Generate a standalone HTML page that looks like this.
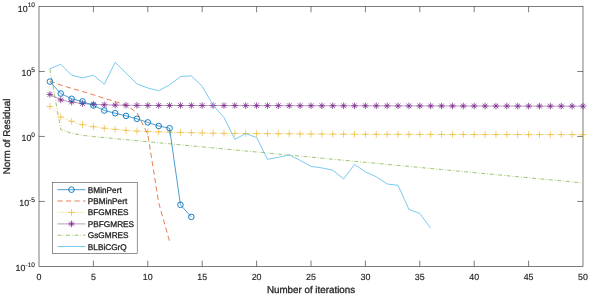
<!DOCTYPE html><html><head><meta charset="utf-8"><style>html,body{margin:0;padding:0;background:#fff;}svg{display:block;}text{font-family:"Liberation Sans",Arial,sans-serif;fill:#262626;stroke:#262626;stroke-width:0.3px;text-rendering:geometricPrecision;}</style></head><body>
<svg width="590" height="297" viewBox="0 0 590 297">
<rect x="0" y="0" width="590" height="297" fill="#fff"/>
<g fill="none" stroke="#262626" stroke-width="0.6">
<rect x="39.00" y="6.50" width="544.00" height="259.90"/>
<path d="M93.40 266.40v-5.80M93.40 6.50v5.80"/>
<path d="M147.80 266.40v-5.80M147.80 6.50v5.80"/>
<path d="M202.20 266.40v-5.80M202.20 6.50v5.80"/>
<path d="M256.60 266.40v-5.80M256.60 6.50v5.80"/>
<path d="M311.00 266.40v-5.80M311.00 6.50v5.80"/>
<path d="M365.40 266.40v-5.80M365.40 6.50v5.80"/>
<path d="M419.80 266.40v-5.80M419.80 6.50v5.80"/>
<path d="M474.20 266.40v-5.80M474.20 6.50v5.80"/>
<path d="M528.60 266.40v-5.80M528.60 6.50v5.80"/>
<path d="M39.00 201.42h5.80M583.00 201.42h-5.80"/>
<path d="M39.00 136.45h5.80M583.00 136.45h-5.80"/>
<path d="M39.00 71.47h5.80M583.00 71.47h-5.80"/>
</g>
<g fill="none" stroke-width="0.9" stroke-linejoin="round">
<polyline points="49.88,69.00 60.76,129.50 71.64,133.30 82.52,135.30 93.40,136.60 104.28,137.60 115.16,138.63 126.04,139.66 136.92,140.69 147.80,141.72 158.68,142.75 169.56,143.78 180.44,144.81 191.32,145.84 202.20,146.87 213.08,147.90 223.96,148.93 234.84,149.96 245.72,150.99 256.60,152.02 267.48,153.05 278.36,154.08 289.24,155.11 300.12,156.14 311.00,157.17 321.88,158.20 332.76,159.23 343.64,160.26 354.52,161.29 365.40,162.32 376.28,163.35 387.16,164.38 398.04,165.41 408.92,166.44 419.80,167.47 430.68,168.50 441.56,169.53 452.44,170.56 463.32,171.59 474.20,172.62 485.08,173.65 495.96,174.68 506.84,175.71 517.72,176.74 528.60,177.77 539.48,178.80 550.36,179.83 561.24,180.86 572.12,181.89 583.00,182.92" stroke="#77AC30" stroke-dasharray="4 2 0.8 1.7" stroke-width="0.7"/>
<polyline points="49.88,106.50 60.76,117.00 71.64,121.30 82.52,124.70 93.40,126.70 104.28,128.20 115.16,129.30 126.04,130.40 136.92,131.10 147.80,131.60 158.68,131.90 169.56,132.20 180.44,132.45 191.32,132.70 202.20,132.95 213.08,133.20 223.96,133.30 234.84,133.40 245.72,133.50 256.60,133.60 267.48,133.68 278.36,133.76 289.24,133.84 300.12,133.92 311.00,134.00 321.88,134.06 332.76,134.12 343.64,134.18 354.52,134.24 365.40,134.30 376.28,134.32 387.16,134.34 398.04,134.36 408.92,134.38 419.80,134.40 430.68,134.42 441.56,134.44 452.44,134.46 463.32,134.48 474.20,134.50 485.08,134.51 495.96,134.52 506.84,134.53 517.72,134.54 528.60,134.55 539.48,134.56 550.36,134.57 561.24,134.58 572.12,134.59 583.00,134.60" stroke="#EDB120" stroke-dasharray="0.6 0.9" stroke-width="0.6"/>
<path d="M46.48 106.50h6.80M49.88 103.10v6.80" stroke="#EDB120" stroke-width="0.65"/>
<path d="M57.36 117.00h6.80M60.76 113.60v6.80" stroke="#EDB120" stroke-width="0.65"/>
<path d="M68.24 121.30h6.80M71.64 117.90v6.80" stroke="#EDB120" stroke-width="0.65"/>
<path d="M79.12 124.70h6.80M82.52 121.30v6.80" stroke="#EDB120" stroke-width="0.65"/>
<path d="M90.00 126.70h6.80M93.40 123.30v6.80" stroke="#EDB120" stroke-width="0.65"/>
<path d="M100.88 128.20h6.80M104.28 124.80v6.80" stroke="#EDB120" stroke-width="0.65"/>
<path d="M111.76 129.30h6.80M115.16 125.90v6.80" stroke="#EDB120" stroke-width="0.65"/>
<path d="M122.64 130.40h6.80M126.04 127.00v6.80" stroke="#EDB120" stroke-width="0.65"/>
<path d="M133.52 131.10h6.80M136.92 127.70v6.80" stroke="#EDB120" stroke-width="0.65"/>
<path d="M144.40 131.60h6.80M147.80 128.20v6.80" stroke="#EDB120" stroke-width="0.65"/>
<path d="M155.28 131.90h6.80M158.68 128.50v6.80" stroke="#EDB120" stroke-width="0.65"/>
<path d="M166.16 132.20h6.80M169.56 128.80v6.80" stroke="#EDB120" stroke-width="0.65"/>
<path d="M177.04 132.45h6.80M180.44 129.05v6.80" stroke="#EDB120" stroke-width="0.65"/>
<path d="M187.92 132.70h6.80M191.32 129.30v6.80" stroke="#EDB120" stroke-width="0.65"/>
<path d="M198.80 132.95h6.80M202.20 129.55v6.80" stroke="#EDB120" stroke-width="0.65"/>
<path d="M209.68 133.20h6.80M213.08 129.80v6.80" stroke="#EDB120" stroke-width="0.65"/>
<path d="M220.56 133.30h6.80M223.96 129.90v6.80" stroke="#EDB120" stroke-width="0.65"/>
<path d="M231.44 133.40h6.80M234.84 130.00v6.80" stroke="#EDB120" stroke-width="0.65"/>
<path d="M242.32 133.50h6.80M245.72 130.10v6.80" stroke="#EDB120" stroke-width="0.65"/>
<path d="M253.20 133.60h6.80M256.60 130.20v6.80" stroke="#EDB120" stroke-width="0.65"/>
<path d="M264.08 133.68h6.80M267.48 130.28v6.80" stroke="#EDB120" stroke-width="0.65"/>
<path d="M274.96 133.76h6.80M278.36 130.36v6.80" stroke="#EDB120" stroke-width="0.65"/>
<path d="M285.84 133.84h6.80M289.24 130.44v6.80" stroke="#EDB120" stroke-width="0.65"/>
<path d="M296.72 133.92h6.80M300.12 130.52v6.80" stroke="#EDB120" stroke-width="0.65"/>
<path d="M307.60 134.00h6.80M311.00 130.60v6.80" stroke="#EDB120" stroke-width="0.65"/>
<path d="M318.48 134.06h6.80M321.88 130.66v6.80" stroke="#EDB120" stroke-width="0.65"/>
<path d="M329.36 134.12h6.80M332.76 130.72v6.80" stroke="#EDB120" stroke-width="0.65"/>
<path d="M340.24 134.18h6.80M343.64 130.78v6.80" stroke="#EDB120" stroke-width="0.65"/>
<path d="M351.12 134.24h6.80M354.52 130.84v6.80" stroke="#EDB120" stroke-width="0.65"/>
<path d="M362.00 134.30h6.80M365.40 130.90v6.80" stroke="#EDB120" stroke-width="0.65"/>
<path d="M372.88 134.32h6.80M376.28 130.92v6.80" stroke="#EDB120" stroke-width="0.65"/>
<path d="M383.76 134.34h6.80M387.16 130.94v6.80" stroke="#EDB120" stroke-width="0.65"/>
<path d="M394.64 134.36h6.80M398.04 130.96v6.80" stroke="#EDB120" stroke-width="0.65"/>
<path d="M405.52 134.38h6.80M408.92 130.98v6.80" stroke="#EDB120" stroke-width="0.65"/>
<path d="M416.40 134.40h6.80M419.80 131.00v6.80" stroke="#EDB120" stroke-width="0.65"/>
<path d="M427.28 134.42h6.80M430.68 131.02v6.80" stroke="#EDB120" stroke-width="0.65"/>
<path d="M438.16 134.44h6.80M441.56 131.04v6.80" stroke="#EDB120" stroke-width="0.65"/>
<path d="M449.04 134.46h6.80M452.44 131.06v6.80" stroke="#EDB120" stroke-width="0.65"/>
<path d="M459.92 134.48h6.80M463.32 131.08v6.80" stroke="#EDB120" stroke-width="0.65"/>
<path d="M470.80 134.50h6.80M474.20 131.10v6.80" stroke="#EDB120" stroke-width="0.65"/>
<path d="M481.68 134.51h6.80M485.08 131.11v6.80" stroke="#EDB120" stroke-width="0.65"/>
<path d="M492.56 134.52h6.80M495.96 131.12v6.80" stroke="#EDB120" stroke-width="0.65"/>
<path d="M503.44 134.53h6.80M506.84 131.13v6.80" stroke="#EDB120" stroke-width="0.65"/>
<path d="M514.32 134.54h6.80M517.72 131.14v6.80" stroke="#EDB120" stroke-width="0.65"/>
<path d="M525.20 134.55h6.80M528.60 131.15v6.80" stroke="#EDB120" stroke-width="0.65"/>
<path d="M536.08 134.56h6.80M539.48 131.16v6.80" stroke="#EDB120" stroke-width="0.65"/>
<path d="M546.96 134.57h6.80M550.36 131.17v6.80" stroke="#EDB120" stroke-width="0.65"/>
<path d="M557.84 134.58h6.80M561.24 131.18v6.80" stroke="#EDB120" stroke-width="0.65"/>
<path d="M568.72 134.59h6.80M572.12 131.19v6.80" stroke="#EDB120" stroke-width="0.65"/>
<path d="M579.60 134.60h6.80M583.00 131.20v6.80" stroke="#EDB120" stroke-width="0.65"/>
<polyline points="49.88,81.00 60.76,85.00 71.64,88.40 82.52,91.40 93.40,94.80 104.28,98.40 115.16,101.50 126.04,105.20 136.92,112.60 147.80,134.40 158.68,202.80 169.56,241.40" stroke="#D95319" stroke-dasharray="5.2 3.3" stroke-width="0.75"/>
<polyline points="49.88,94.40 60.76,99.90 71.64,102.00 82.52,103.60 93.40,104.30 104.28,104.80 115.16,105.10 126.04,105.30 136.92,105.42 147.80,105.44 158.68,105.46 169.56,105.48 180.44,105.50 191.32,105.51 202.20,105.53 213.08,105.55 223.96,105.57 234.84,105.59 245.72,105.61 256.60,105.63 267.48,105.65 278.36,105.67 289.24,105.69 300.12,105.70 311.00,105.72 321.88,105.74 332.76,105.76 343.64,105.78 354.52,105.80 365.40,105.82 376.28,105.84 387.16,105.86 398.04,105.88 408.92,105.90 419.80,105.91 430.68,105.93 441.56,105.95 452.44,105.97 463.32,105.99 474.20,106.01 485.08,106.03 495.96,106.05 506.84,106.07 517.72,106.09 528.60,106.10 539.48,106.12 550.36,106.14 561.24,106.16 572.12,106.18 583.00,106.20" stroke="#7E2F8E" stroke-width="0.5"/>
<path d="M46.58 94.40h6.60M49.88 91.10v6.60M47.55 92.07l4.67 4.67M47.55 96.73l4.67 -4.67" stroke="#7E2F8E" stroke-width="0.8"/><circle cx="49.88" cy="94.40" r="0.75" fill="#7E2F8E" stroke="none"/>
<path d="M57.46 99.90h6.60M60.76 96.60v6.60M58.43 97.57l4.67 4.67M58.43 102.23l4.67 -4.67" stroke="#7E2F8E" stroke-width="0.8"/><circle cx="60.76" cy="99.90" r="0.75" fill="#7E2F8E" stroke="none"/>
<path d="M68.34 102.00h6.60M71.64 98.70v6.60M69.31 99.67l4.67 4.67M69.31 104.33l4.67 -4.67" stroke="#7E2F8E" stroke-width="0.8"/><circle cx="71.64" cy="102.00" r="0.75" fill="#7E2F8E" stroke="none"/>
<path d="M79.22 103.60h6.60M82.52 100.30v6.60M80.19 101.27l4.67 4.67M80.19 105.93l4.67 -4.67" stroke="#7E2F8E" stroke-width="0.8"/><circle cx="82.52" cy="103.60" r="0.75" fill="#7E2F8E" stroke="none"/>
<path d="M90.10 104.30h6.60M93.40 101.00v6.60M91.07 101.97l4.67 4.67M91.07 106.63l4.67 -4.67" stroke="#7E2F8E" stroke-width="0.8"/><circle cx="93.40" cy="104.30" r="0.75" fill="#7E2F8E" stroke="none"/>
<path d="M100.98 104.80h6.60M104.28 101.50v6.60M101.95 102.47l4.67 4.67M101.95 107.13l4.67 -4.67" stroke="#7E2F8E" stroke-width="0.8"/><circle cx="104.28" cy="104.80" r="0.75" fill="#7E2F8E" stroke="none"/>
<path d="M111.86 105.10h6.60M115.16 101.80v6.60M112.83 102.77l4.67 4.67M112.83 107.43l4.67 -4.67" stroke="#7E2F8E" stroke-width="0.8"/><circle cx="115.16" cy="105.10" r="0.75" fill="#7E2F8E" stroke="none"/>
<path d="M122.74 105.30h6.60M126.04 102.00v6.60M123.71 102.97l4.67 4.67M123.71 107.63l4.67 -4.67" stroke="#7E2F8E" stroke-width="0.8"/><circle cx="126.04" cy="105.30" r="0.75" fill="#7E2F8E" stroke="none"/>
<path d="M133.62 105.42h6.60M136.92 102.12v6.60M134.59 103.09l4.67 4.67M134.59 107.75l4.67 -4.67" stroke="#7E2F8E" stroke-width="0.8"/><circle cx="136.92" cy="105.42" r="0.75" fill="#7E2F8E" stroke="none"/>
<path d="M144.50 105.44h6.60M147.80 102.14v6.60M145.47 103.10l4.67 4.67M145.47 107.77l4.67 -4.67" stroke="#7E2F8E" stroke-width="0.8"/><circle cx="147.80" cy="105.44" r="0.75" fill="#7E2F8E" stroke="none"/>
<path d="M155.38 105.46h6.60M158.68 102.16v6.60M156.35 103.12l4.67 4.67M156.35 107.79l4.67 -4.67" stroke="#7E2F8E" stroke-width="0.8"/><circle cx="158.68" cy="105.46" r="0.75" fill="#7E2F8E" stroke="none"/>
<path d="M166.26 105.48h6.60M169.56 102.18v6.60M167.23 103.14l4.67 4.67M167.23 107.81l4.67 -4.67" stroke="#7E2F8E" stroke-width="0.8"/><circle cx="169.56" cy="105.48" r="0.75" fill="#7E2F8E" stroke="none"/>
<path d="M177.14 105.50h6.60M180.44 102.20v6.60M178.11 103.16l4.67 4.67M178.11 107.83l4.67 -4.67" stroke="#7E2F8E" stroke-width="0.8"/><circle cx="180.44" cy="105.50" r="0.75" fill="#7E2F8E" stroke="none"/>
<path d="M188.02 105.51h6.60M191.32 102.21v6.60M188.99 103.18l4.67 4.67M188.99 107.85l4.67 -4.67" stroke="#7E2F8E" stroke-width="0.8"/><circle cx="191.32" cy="105.51" r="0.75" fill="#7E2F8E" stroke="none"/>
<path d="M198.90 105.53h6.60M202.20 102.23v6.60M199.87 103.20l4.67 4.67M199.87 107.87l4.67 -4.67" stroke="#7E2F8E" stroke-width="0.8"/><circle cx="202.20" cy="105.53" r="0.75" fill="#7E2F8E" stroke="none"/>
<path d="M209.78 105.55h6.60M213.08 102.25v6.60M210.75 103.22l4.67 4.67M210.75 107.89l4.67 -4.67" stroke="#7E2F8E" stroke-width="0.8"/><circle cx="213.08" cy="105.55" r="0.75" fill="#7E2F8E" stroke="none"/>
<path d="M220.66 105.57h6.60M223.96 102.27v6.60M221.63 103.24l4.67 4.67M221.63 107.90l4.67 -4.67" stroke="#7E2F8E" stroke-width="0.8"/><circle cx="223.96" cy="105.57" r="0.75" fill="#7E2F8E" stroke="none"/>
<path d="M231.54 105.59h6.60M234.84 102.29v6.60M232.51 103.26l4.67 4.67M232.51 107.92l4.67 -4.67" stroke="#7E2F8E" stroke-width="0.8"/><circle cx="234.84" cy="105.59" r="0.75" fill="#7E2F8E" stroke="none"/>
<path d="M242.42 105.61h6.60M245.72 102.31v6.60M243.39 103.28l4.67 4.67M243.39 107.94l4.67 -4.67" stroke="#7E2F8E" stroke-width="0.8"/><circle cx="245.72" cy="105.61" r="0.75" fill="#7E2F8E" stroke="none"/>
<path d="M253.30 105.63h6.60M256.60 102.33v6.60M254.27 103.30l4.67 4.67M254.27 107.96l4.67 -4.67" stroke="#7E2F8E" stroke-width="0.8"/><circle cx="256.60" cy="105.63" r="0.75" fill="#7E2F8E" stroke="none"/>
<path d="M264.18 105.65h6.60M267.48 102.35v6.60M265.15 103.31l4.67 4.67M265.15 107.98l4.67 -4.67" stroke="#7E2F8E" stroke-width="0.8"/><circle cx="267.48" cy="105.65" r="0.75" fill="#7E2F8E" stroke="none"/>
<path d="M275.06 105.67h6.60M278.36 102.37v6.60M276.03 103.33l4.67 4.67M276.03 108.00l4.67 -4.67" stroke="#7E2F8E" stroke-width="0.8"/><circle cx="278.36" cy="105.67" r="0.75" fill="#7E2F8E" stroke="none"/>
<path d="M285.94 105.69h6.60M289.24 102.39v6.60M286.91 103.35l4.67 4.67M286.91 108.02l4.67 -4.67" stroke="#7E2F8E" stroke-width="0.8"/><circle cx="289.24" cy="105.69" r="0.75" fill="#7E2F8E" stroke="none"/>
<path d="M296.82 105.70h6.60M300.12 102.40v6.60M297.79 103.37l4.67 4.67M297.79 108.04l4.67 -4.67" stroke="#7E2F8E" stroke-width="0.8"/><circle cx="300.12" cy="105.70" r="0.75" fill="#7E2F8E" stroke="none"/>
<path d="M307.70 105.72h6.60M311.00 102.42v6.60M308.67 103.39l4.67 4.67M308.67 108.06l4.67 -4.67" stroke="#7E2F8E" stroke-width="0.8"/><circle cx="311.00" cy="105.72" r="0.75" fill="#7E2F8E" stroke="none"/>
<path d="M318.58 105.74h6.60M321.88 102.44v6.60M319.55 103.41l4.67 4.67M319.55 108.08l4.67 -4.67" stroke="#7E2F8E" stroke-width="0.8"/><circle cx="321.88" cy="105.74" r="0.75" fill="#7E2F8E" stroke="none"/>
<path d="M329.46 105.76h6.60M332.76 102.46v6.60M330.43 103.43l4.67 4.67M330.43 108.10l4.67 -4.67" stroke="#7E2F8E" stroke-width="0.8"/><circle cx="332.76" cy="105.76" r="0.75" fill="#7E2F8E" stroke="none"/>
<path d="M340.34 105.78h6.60M343.64 102.48v6.60M341.31 103.45l4.67 4.67M341.31 108.11l4.67 -4.67" stroke="#7E2F8E" stroke-width="0.8"/><circle cx="343.64" cy="105.78" r="0.75" fill="#7E2F8E" stroke="none"/>
<path d="M351.22 105.80h6.60M354.52 102.50v6.60M352.19 103.47l4.67 4.67M352.19 108.13l4.67 -4.67" stroke="#7E2F8E" stroke-width="0.8"/><circle cx="354.52" cy="105.80" r="0.75" fill="#7E2F8E" stroke="none"/>
<path d="M362.10 105.82h6.60M365.40 102.52v6.60M363.07 103.49l4.67 4.67M363.07 108.15l4.67 -4.67" stroke="#7E2F8E" stroke-width="0.8"/><circle cx="365.40" cy="105.82" r="0.75" fill="#7E2F8E" stroke="none"/>
<path d="M372.98 105.84h6.60M376.28 102.54v6.60M373.95 103.50l4.67 4.67M373.95 108.17l4.67 -4.67" stroke="#7E2F8E" stroke-width="0.8"/><circle cx="376.28" cy="105.84" r="0.75" fill="#7E2F8E" stroke="none"/>
<path d="M383.86 105.86h6.60M387.16 102.56v6.60M384.83 103.52l4.67 4.67M384.83 108.19l4.67 -4.67" stroke="#7E2F8E" stroke-width="0.8"/><circle cx="387.16" cy="105.86" r="0.75" fill="#7E2F8E" stroke="none"/>
<path d="M394.74 105.88h6.60M398.04 102.58v6.60M395.71 103.54l4.67 4.67M395.71 108.21l4.67 -4.67" stroke="#7E2F8E" stroke-width="0.8"/><circle cx="398.04" cy="105.88" r="0.75" fill="#7E2F8E" stroke="none"/>
<path d="M405.62 105.90h6.60M408.92 102.60v6.60M406.59 103.56l4.67 4.67M406.59 108.23l4.67 -4.67" stroke="#7E2F8E" stroke-width="0.8"/><circle cx="408.92" cy="105.90" r="0.75" fill="#7E2F8E" stroke="none"/>
<path d="M416.50 105.91h6.60M419.80 102.61v6.60M417.47 103.58l4.67 4.67M417.47 108.25l4.67 -4.67" stroke="#7E2F8E" stroke-width="0.8"/><circle cx="419.80" cy="105.91" r="0.75" fill="#7E2F8E" stroke="none"/>
<path d="M427.38 105.93h6.60M430.68 102.63v6.60M428.35 103.60l4.67 4.67M428.35 108.27l4.67 -4.67" stroke="#7E2F8E" stroke-width="0.8"/><circle cx="430.68" cy="105.93" r="0.75" fill="#7E2F8E" stroke="none"/>
<path d="M438.26 105.95h6.60M441.56 102.65v6.60M439.23 103.62l4.67 4.67M439.23 108.29l4.67 -4.67" stroke="#7E2F8E" stroke-width="0.8"/><circle cx="441.56" cy="105.95" r="0.75" fill="#7E2F8E" stroke="none"/>
<path d="M449.14 105.97h6.60M452.44 102.67v6.60M450.11 103.64l4.67 4.67M450.11 108.30l4.67 -4.67" stroke="#7E2F8E" stroke-width="0.8"/><circle cx="452.44" cy="105.97" r="0.75" fill="#7E2F8E" stroke="none"/>
<path d="M460.02 105.99h6.60M463.32 102.69v6.60M460.99 103.66l4.67 4.67M460.99 108.32l4.67 -4.67" stroke="#7E2F8E" stroke-width="0.8"/><circle cx="463.32" cy="105.99" r="0.75" fill="#7E2F8E" stroke="none"/>
<path d="M470.90 106.01h6.60M474.20 102.71v6.60M471.87 103.68l4.67 4.67M471.87 108.34l4.67 -4.67" stroke="#7E2F8E" stroke-width="0.8"/><circle cx="474.20" cy="106.01" r="0.75" fill="#7E2F8E" stroke="none"/>
<path d="M481.78 106.03h6.60M485.08 102.73v6.60M482.75 103.70l4.67 4.67M482.75 108.36l4.67 -4.67" stroke="#7E2F8E" stroke-width="0.8"/><circle cx="485.08" cy="106.03" r="0.75" fill="#7E2F8E" stroke="none"/>
<path d="M492.66 106.05h6.60M495.96 102.75v6.60M493.63 103.71l4.67 4.67M493.63 108.38l4.67 -4.67" stroke="#7E2F8E" stroke-width="0.8"/><circle cx="495.96" cy="106.05" r="0.75" fill="#7E2F8E" stroke="none"/>
<path d="M503.54 106.07h6.60M506.84 102.77v6.60M504.51 103.73l4.67 4.67M504.51 108.40l4.67 -4.67" stroke="#7E2F8E" stroke-width="0.8"/><circle cx="506.84" cy="106.07" r="0.75" fill="#7E2F8E" stroke="none"/>
<path d="M514.42 106.09h6.60M517.72 102.79v6.60M515.39 103.75l4.67 4.67M515.39 108.42l4.67 -4.67" stroke="#7E2F8E" stroke-width="0.8"/><circle cx="517.72" cy="106.09" r="0.75" fill="#7E2F8E" stroke="none"/>
<path d="M525.30 106.10h6.60M528.60 102.80v6.60M526.27 103.77l4.67 4.67M526.27 108.44l4.67 -4.67" stroke="#7E2F8E" stroke-width="0.8"/><circle cx="528.60" cy="106.10" r="0.75" fill="#7E2F8E" stroke="none"/>
<path d="M536.18 106.12h6.60M539.48 102.82v6.60M537.15 103.79l4.67 4.67M537.15 108.46l4.67 -4.67" stroke="#7E2F8E" stroke-width="0.8"/><circle cx="539.48" cy="106.12" r="0.75" fill="#7E2F8E" stroke="none"/>
<path d="M547.06 106.14h6.60M550.36 102.84v6.60M548.03 103.81l4.67 4.67M548.03 108.48l4.67 -4.67" stroke="#7E2F8E" stroke-width="0.8"/><circle cx="550.36" cy="106.14" r="0.75" fill="#7E2F8E" stroke="none"/>
<path d="M557.94 106.16h6.60M561.24 102.86v6.60M558.91 103.83l4.67 4.67M558.91 108.50l4.67 -4.67" stroke="#7E2F8E" stroke-width="0.8"/><circle cx="561.24" cy="106.16" r="0.75" fill="#7E2F8E" stroke="none"/>
<path d="M568.82 106.18h6.60M572.12 102.88v6.60M569.79 103.85l4.67 4.67M569.79 108.51l4.67 -4.67" stroke="#7E2F8E" stroke-width="0.8"/><circle cx="572.12" cy="106.18" r="0.75" fill="#7E2F8E" stroke="none"/>
<path d="M579.70 106.20h6.60M583.00 102.90v6.60M580.67 103.87l4.67 4.67M580.67 108.53l4.67 -4.67" stroke="#7E2F8E" stroke-width="0.8"/><circle cx="583.00" cy="106.20" r="0.75" fill="#7E2F8E" stroke="none"/>
<polyline points="49.88,81.60 60.76,93.50 71.64,98.80 82.52,101.40 93.40,105.50 104.28,110.50 115.16,113.20 126.04,115.90 136.92,118.80 147.80,122.40 158.68,126.00 169.56,128.20 180.44,204.80 191.32,216.90" stroke="#0072BD" stroke-width="0.7"/>
<circle cx="49.88" cy="81.60" r="2.8" stroke="#0072BD"/>
<circle cx="60.76" cy="93.50" r="2.8" stroke="#0072BD"/>
<circle cx="71.64" cy="98.80" r="2.8" stroke="#0072BD"/>
<circle cx="82.52" cy="101.40" r="2.8" stroke="#0072BD"/>
<circle cx="93.40" cy="105.50" r="2.8" stroke="#0072BD"/>
<circle cx="104.28" cy="110.50" r="2.8" stroke="#0072BD"/>
<circle cx="115.16" cy="113.20" r="2.8" stroke="#0072BD"/>
<circle cx="126.04" cy="115.90" r="2.8" stroke="#0072BD"/>
<circle cx="136.92" cy="118.80" r="2.8" stroke="#0072BD"/>
<circle cx="147.80" cy="122.40" r="2.8" stroke="#0072BD"/>
<circle cx="158.68" cy="126.00" r="2.8" stroke="#0072BD"/>
<circle cx="169.56" cy="128.20" r="2.8" stroke="#0072BD"/>
<circle cx="180.44" cy="204.80" r="2.8" stroke="#0072BD"/>
<circle cx="191.32" cy="216.90" r="2.8" stroke="#0072BD"/>
<polyline points="49.88,68.80 60.76,64.20 71.64,75.20 82.52,77.90 93.40,75.20 104.28,84.30 115.16,62.40 126.04,73.20 136.92,83.90 147.80,88.00 158.68,90.70 169.56,84.90 180.44,76.50 191.32,75.90 202.20,86.20 213.08,105.20 223.96,117.50 234.84,139.30 245.72,133.60 256.60,137.50 267.48,159.30 278.36,157.30 289.24,154.90 300.12,160.40 311.00,166.40 321.88,167.90 332.76,170.20 343.64,178.90 354.52,164.40 365.40,171.80 376.28,176.80 387.16,184.00 398.04,185.30 408.92,209.40 419.80,213.50 430.68,228.20" stroke="#62C0EC" stroke-width="0.85"/>
</g>
<text transform="translate(39.00 280.00) matrix(1 0 0.0020 1 0 0)" font-size="8.9" text-anchor="middle" style="stroke-width:0.15px">0</text>
<text transform="translate(93.40 280.00) matrix(1 0 0.0020 1 0 0)" font-size="8.9" text-anchor="middle" style="stroke-width:0.15px">5</text>
<text transform="translate(147.80 280.00) matrix(1 0 0.0020 1 0 0)" font-size="8.9" text-anchor="middle" style="stroke-width:0.15px">10</text>
<text transform="translate(202.20 280.00) matrix(1 0 0.0020 1 0 0)" font-size="8.9" text-anchor="middle" style="stroke-width:0.15px">15</text>
<text transform="translate(256.60 280.00) matrix(1 0 0.0020 1 0 0)" font-size="8.9" text-anchor="middle" style="stroke-width:0.15px">20</text>
<text transform="translate(311.00 280.00) matrix(1 0 0.0020 1 0 0)" font-size="8.9" text-anchor="middle" style="stroke-width:0.15px">25</text>
<text transform="translate(365.40 280.00) matrix(1 0 0.0020 1 0 0)" font-size="8.9" text-anchor="middle" style="stroke-width:0.15px">30</text>
<text transform="translate(419.80 280.00) matrix(1 0 0.0020 1 0 0)" font-size="8.9" text-anchor="middle" style="stroke-width:0.15px">35</text>
<text transform="translate(474.20 280.00) matrix(1 0 0.0020 1 0 0)" font-size="8.9" text-anchor="middle" style="stroke-width:0.15px">40</text>
<text transform="translate(528.60 280.00) matrix(1 0 0.0020 1 0 0)" font-size="8.9" text-anchor="middle" style="stroke-width:0.15px">45</text>
<text transform="translate(583.00 280.00) matrix(1 0 0.0020 1 0 0)" font-size="8.9" text-anchor="middle" style="stroke-width:0.15px">50</text>
<text transform="translate(35.00 271.40) matrix(1 0 0.0020 1 0 0)" font-size="8.9" text-anchor="end" style="stroke-width:0.15px">10<tspan font-size="6.6" dy="-4.4">-10</tspan></text>
<text transform="translate(35.00 206.42) matrix(1 0 0.0020 1 0 0)" font-size="8.9" text-anchor="end" style="stroke-width:0.15px">10<tspan font-size="6.6" dy="-4.4">-5</tspan></text>
<text transform="translate(35.00 141.45) matrix(1 0 0.0020 1 0 0)" font-size="8.9" text-anchor="end" style="stroke-width:0.15px">10<tspan font-size="6.6" dy="-4.4">0</tspan></text>
<text transform="translate(35.00 76.47) matrix(1 0 0.0020 1 0 0)" font-size="8.9" text-anchor="end" style="stroke-width:0.15px">10<tspan font-size="6.6" dy="-4.4">5</tspan></text>
<text transform="translate(35.00 11.50) matrix(1 0 0.0020 1 0 0)" font-size="8.9" text-anchor="end" style="stroke-width:0.15px">10<tspan font-size="6.6" dy="-4.4">10</tspan></text>
<text transform="translate(311.00 293.20) matrix(1 0 0.0020 1 0 0)" font-size="9.8" text-anchor="middle">Number of iterations</text>
<text transform="translate(10.20 136.45) rotate(-90) matrix(1 0 0.0020 1 0 0)" font-size="9.8" text-anchor="middle">Norm of Residual</text>
<rect x="52.30" y="182.40" width="84.90" height="71.30" fill="#fff" stroke="#262626" stroke-width="0.5"/>
<g fill="none" stroke-width="0.9">
<path d="M57.50 189.70H85.50" stroke="#0072BD" stroke-width="0.7"/><circle cx="71.50" cy="189.70" r="2.8" stroke="#0072BD"/>
<path d="M57.50 201.00H85.50" stroke="#D95319" stroke-dasharray="5.2 3.3" stroke-width="0.75"/>
<path d="M57.50 212.40H85.50" stroke="#EDB120" stroke-dasharray="0.6 0.9" stroke-width="0.6"/><path d="M68.10 212.40h6.80M71.50 209.00v6.80" stroke="#EDB120" stroke-width="0.65"/>
<path d="M57.50 223.90H85.50" stroke="#7E2F8E" stroke-width="0.5"/><path d="M68.20 223.90h6.60M71.50 220.60v6.60M69.17 221.57l4.67 4.67M69.17 226.23l4.67 -4.67" stroke="#7E2F8E" stroke-width="0.8"/><circle cx="71.50" cy="223.90" r="0.75" fill="#7E2F8E" stroke="none"/>
<path d="M57.50 235.20H85.50" stroke="#77AC30" stroke-dasharray="4 2 0.8 1.7" stroke-width="0.7"/>
<path d="M57.50 246.50H85.50" stroke="#62C0EC" stroke-width="0.85"/>
</g>
<text transform="translate(87.80 192.70) matrix(1 0 0.0020 1 0 0)" font-size="8.25" text-anchor="start">BMinPert</text>
<text transform="translate(87.80 204.00) matrix(1 0 0.0020 1 0 0)" font-size="8.25" text-anchor="start">PBMinPert</text>
<text transform="translate(87.80 215.40) matrix(1 0 0.0020 1 0 0)" font-size="8.25" text-anchor="start">BFGMRES</text>
<text transform="translate(87.80 226.90) matrix(1 0 0.0020 1 0 0)" font-size="8.25" text-anchor="start">PBFGMRES</text>
<text transform="translate(87.80 238.20) matrix(1 0 0.0020 1 0 0)" font-size="8.25" text-anchor="start">GsGMRES</text>
<text transform="translate(87.80 249.50) matrix(1 0 0.0020 1 0 0)" font-size="8.25" text-anchor="start">BLBiCGrQ</text>
</svg></body></html>
